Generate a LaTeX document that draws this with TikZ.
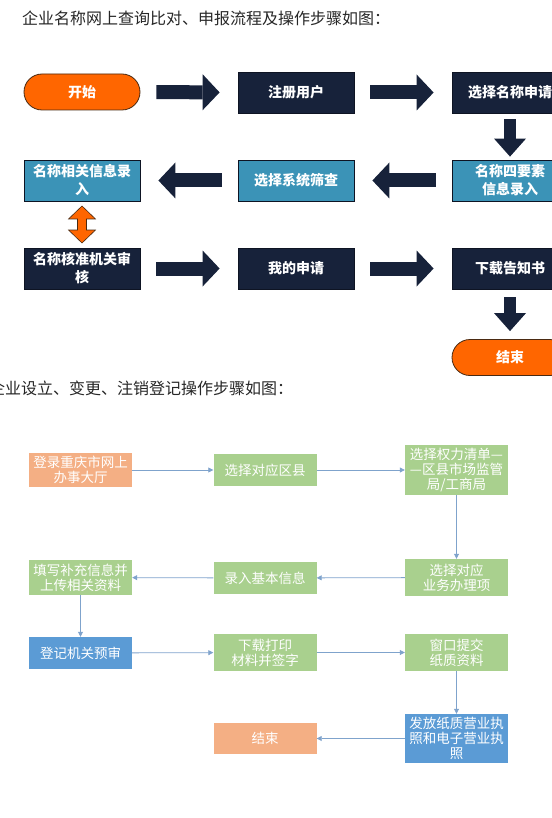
\documentclass[tikz,border=0pt]{standalone}
\usepackage{fontspec}
\setmainfont{Noto Sans CJK SC}
\usetikzlibrary{arrows.meta,calc}

\definecolor{shenlan}{HTML}{17223A}
\definecolor{qinglan}{HTML}{3B93B7}
\definecolor{juhong}{HTML}{FF6600}
\definecolor{zongse}{HTML}{4A2A12}
\definecolor{qianju}{HTML}{F4AF84}
\definecolor{qianlv}{HTML}{A9D08E}
\definecolor{zhonglan}{HTML}{5B9BD5}
\definecolor{xianse}{HTML}{7FA3CC}

\begin{document}
\begin{tikzpicture}[x=1pt, y=-1pt,
    biaoti/.style={anchor=west, inner sep=0pt, text=black!85, font=\fontsize{16}{16}\selectfont},
    dakuai/.style={draw=shenlan!60!black, line width=0.8pt, text=white, align=center, inner sep=0pt,
        minimum width=116pt, minimum height=41pt, font=\fontsize{14}{18}\selectfont\bfseries},
    hei/.style={dakuai, fill=shenlan},
    qing/.style={dakuai, fill=qinglan},
    yuan/.style={dakuai, draw=zongse, fill=juhong, rounded corners=18pt, minimum height=36pt},
    kuai/.style={shenlan, line width=14pt, shorten <=16pt, shorten >=18pt,
        -{Triangle[length=17pt 0 0, width=36pt 0 0, line width=0pt 0 0]}},
    kuaixia/.style={shenlan, line width=12pt,
        -{Triangle[length=18pt 0 0, width=32pt 0 0, line width=0pt 0 0]}},
    xiaokuai/.style={text=white, align=center, inner sep=0pt, minimum width=103pt,
        font=\fontsize{13.5}{15}\selectfont},
    lv/.style={xiaokuai, fill=qianlv},
    ju/.style={xiaokuai, fill=qianju},
    lan/.style={xiaokuai, fill=zhonglan},
    xian/.style={draw=xianse, line width=0.8pt, -{Triangle[length=5pt 0 0, width=5pt 0 0]}}
]
    \useasboundingbox (0,0) rectangle (551,818);

    % 标题一
    \node[biaoti] (t1) at (22,18) {企业名称网上查询比对、申报流程及操作步骤如图：};

    % 名称查询流程的方框
    \node[yuan] (kaishi) at (82,92) {开始};
    \node[hei] (zhuce) at (296,92.5) {注册用户};
    \node[hei] (xuanming) at (510,92.5) {选择名称申请};
    \node[qing] (siyaosu) at (510,180.5) {名称四要素\\信息录入};
    \node[qing] (shaicha) at (296,180.5) {选择系统筛查};
    \node[qing] (luru) at (82,180.5) {名称相关信息录\\入};
    \node[hei] (shenhe) at (82,268.5) {名称核准机关审\\核};
    \node[hei] (shenqing) at (296,268.5) {我的申请};
    \node[hei] (gaozhi) at (510,268.5) {下载告知书};
    \node[yuan] (jieshu) at (510,357.5) {结束};

    % 粗箭头
    \draw[kuai] (kaishi.east) -- (zhuce.west);
    \draw[kuai] (zhuce.east) -- (xuanming.west);
    \draw[kuaixia, shorten <=6pt, shorten >=3pt] (xuanming.south) -- (siyaosu.north);
    \draw[kuai] (siyaosu.west) -- (shaicha.east);
    \draw[kuai] (shaicha.west) -- (luru.east);
    \draw[kuai] (shenhe.east) -- (shenqing.west);
    \draw[kuai] (shenqing.east) -- (gaozhi.west);
    \draw[kuaixia, shorten <=8pt, shorten >=8pt] (gaozhi.south) -- (jieshu.north);

    % 双向箭头
    \filldraw[draw=zongse, fill=juhong, line width=0.6pt, shift={($(luru.south)!0.5!(shenhe.north)$)}]
        (0,-18.5) -- (13.5,-5.5) -- (4.5,-5.5) -- (4.5,5.5) -- (13.5,5.5) -- (0,18.5)
        -- (-13.5,5.5) -- (-4.5,5.5) -- (-4.5,-5.5) -- (-13.5,-5.5) -- cycle;

    % 标题二
    \node[biaoti] (t2) at (-11,388.5) {企业设立、变更、注销登记操作步骤如图：};

    % 登记流程的方框
    \node[ju, minimum height=34pt] (denglu) at (80.5,470) {登录重庆市网上\\办事大厅};
    \node[lv, minimum height=32pt] (quxian) at (265,470) {选择对应区县};
    \node[lv, minimum height=50pt] (quanli) at (456.5,470) {选择权力清单—\\—区县市场监管\\局/工商局};
    \node[lv, minimum height=37pt] (banli) at (456.5,577.5) {选择对应\\业务办理项};
    \node[lv, minimum height=32pt] (jiben) at (265,578) {录入基本信息};
    \node[lv, minimum height=35pt] (buchong) at (80.5,577.5) {填写补充信息并\\上传相关资料};
    \node[lan, minimum height=32pt] (yushen) at (80.5,653) {登记机关预审};
    \node[lv, minimum height=37pt] (dayin) at (265,652.5) {下载打印\\材料并签字};
    \node[lv, minimum height=37pt] (tijiao) at (456.5,652.5) {窗口提交\\纸质资料};
    \node[lan, minimum height=49pt] (fafang) at (456.5,738.5) {发放纸质营业执\\照和电子营业执\\照};
    \node[ju, minimum height=31pt] (jies) at (265,738.5) {结束};

    % 细连线
    \draw[xian] (denglu) -- (quxian);
    \draw[xian] (quxian) -- (quanli);
    \draw[xian] (quanli) -- (banli);
    \draw[xian] (banli) -- (jiben);
    \draw[xian] (jiben) -- (buchong);
    \draw[xian] (buchong) -- (yushen);
    \draw[xian] (yushen) -- (dayin);
    \draw[xian] (dayin) -- (tijiao);
    \draw[xian] (tijiao) -- (fafang);
    \draw[xian] (fafang) -- (jies);
\end{tikzpicture}
\end{document}
